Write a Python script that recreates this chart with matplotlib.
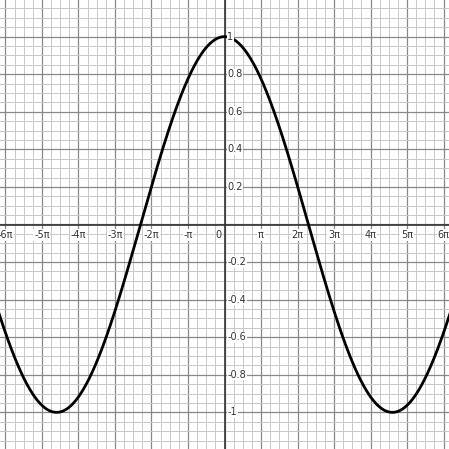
import numpy as np
import matplotlib.pyplot as plt
from matplotlib.ticker import MultipleLocator

amplitude = 1.0
period = 9.2 * np.pi
x = np.linspace(-6.3 * np.pi, 6.3 * np.pi, 800)
y = amplitude * np.cos(2 * np.pi * x / period)

xtick_vals = [k for k in range(-6, 7) if k != 0]
xtick_labels = {-6: '-6π', -5: '-5π', -4: '-4π', -3: '-3π', -2: '-2π', -1: '-π',
                1: 'π', 2: '2π', 3: '3π', 4: '4π', 5: '5π', 6: '6π'}
ytick_vals = [-1, -0.8, -0.6, -0.4, -0.2, 0.2, 0.4, 0.6, 0.8, 1]

fig = plt.figure(figsize=(4.49, 4.49), dpi=100)
ax = fig.add_axes([0, 0, 1, 1])
ax.set_xlim(-6.15 * np.pi, 6.15 * np.pi)
ax.set_ylim(-1.195, 1.195)
ax.xaxis.set_major_locator(MultipleLocator(np.pi))
ax.xaxis.set_minor_locator(MultipleLocator(np.pi / 4))
ax.yaxis.set_major_locator(MultipleLocator(0.2))
ax.yaxis.set_minor_locator(MultipleLocator(0.05))
ax.grid(which='major', color='#888888', lw=0.9)
ax.grid(which='minor', color='#c8c8c8', lw=0.7)
ax.set_axisbelow(True)
ax.tick_params(which='both', length=0, labelbottom=False, labelleft=False)
for s in ax.spines.values():
    s.set_visible(False)
ax.axhline(0, color='#333333', lw=1.2)
ax.axvline(0, color='#333333', lw=1.2)
for k in xtick_vals:
    ax.text(k * np.pi, -0.03, xtick_labels[k], ha='center', va='top', fontsize=7, color='#333333',
            bbox=dict(facecolor='white', edgecolor='none', pad=0.5))
for v in ytick_vals:
    ax.text(0.25, v, f'{v:g}', ha='left', va='center', fontsize=7, color='#333333',
            bbox=dict(facecolor='white', edgecolor='none', pad=0.5))
ax.text(-0.3, -0.03, '0', ha='right', va='top', fontsize=7, color='#333333')
ax.plot(x, y, color='black', lw=2)
fig.savefig('out.png', dpi=100)
